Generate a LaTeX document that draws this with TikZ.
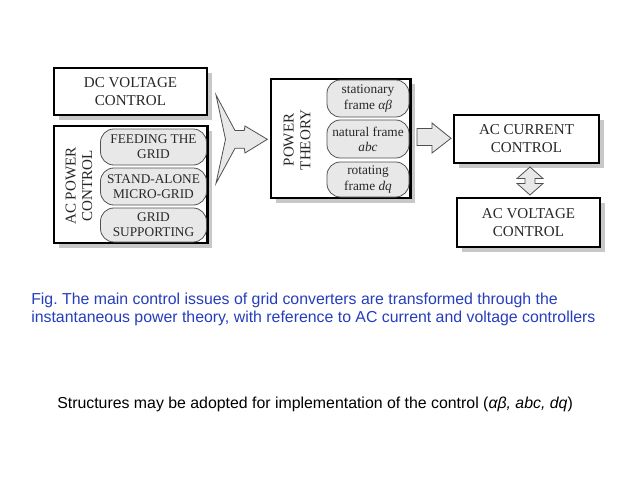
\documentclass[tikz,border=0pt]{standalone}
\usepackage{fontspec}
\setmainfont{Liberation Serif}
\newfontfamily\capfont{Liberation Sans}
\usetikzlibrary{shadows}
\frenchspacing
\definecolor{capblue}{RGB}{38,62,190}
\definecolor{txtgray}{RGB}{40,40,40}
\definecolor{innerfill}{RGB}{232,232,232}
\definecolor{innerdraw}{RGB}{80,80,80}
\definecolor{shadowgray}{RGB}{200,200,200}
\tikzset{
  bigbox/.style={draw=black, line width=1.7pt, fill=white, inner sep=0pt,
    text=txtgray, align=center, font=\fontsize{11.3}{13.5}\selectfont,
    drop shadow={shadow xshift=3.5pt, shadow yshift=-3.5pt, fill=shadowgray, opacity=1}},
  pill/.style={draw=innerdraw, line width=0.6pt, fill=innerfill, rounded corners=10pt,
    inner sep=0pt, text=txtgray, align=center, font=\fontsize{10}{11.4}\selectfont},
  vlabel/.style={rotate=90, text=txtgray, align=center, font=\fontsize{11.3}{12.5}\selectfont, inner sep=0pt},
  blockarrow/.style={draw=innerdraw, line width=0.6pt, fill=innerfill, line join=miter},
  captext/.style={font=\capfont\fontsize{11.9}{13.9}\selectfont, inner sep=0pt, align=left}
}
\begin{document}
\begin{tikzpicture}[x=0.75pt, y=-0.75pt]
\path[use as bounding box, fill=white] (0,0) rectangle (638,478);

% left column
\node[bigbox, minimum width=114.75pt, minimum height=35.25pt] (dc) at (130.5,91.5) {DC VOLTAGE\\CONTROL};
\node[bigbox, minimum width=114.75pt, minimum height=87.75pt] (acp) at (130.5,184.5) {};
\node[pill, minimum width=79.5pt, minimum height=27pt] (feed) at (153.5,147) {FEEDING THE\\GRID};
\node[pill, minimum width=79.5pt, minimum height=27.75pt] (stand) at (153.5,186.5) {STAND-ALONE\\MICRO-GRID};
\node[pill, minimum width=79.5pt, minimum height=25.5pt] (gsup) at (153.5,225) {GRID\\SUPPORTING};
\draw[line width=1.7pt] (acp.north east) -- (acp.south east);
\node[vlabel] (acplab) at (79,186) {AC POWER\\CONTROL};

% big arrow
\draw[blockarrow] (216,95) -- (235,130.5) -- (244.3,130.5) -- (245,126) -- (267.3,139.3)
  -- (245,153) -- (244.3,148.3) -- (235,148.3) -- (216,183.3) -- (225.5,139.3) -- cycle;

% power theory
\node[bigbox, minimum width=104.25pt, minimum height=89.25pt] (pt) at (340.5,138.5) {};
\node[pill, minimum width=61.5pt, minimum height=27.75pt] (stat) at (368,98.5) {stationary\\frame \textit{αβ}};
\node[pill, minimum width=61.5pt, minimum height=28.5pt] (nat) at (368,139) {natural frame\\\textit{abc}};
\node[pill, minimum width=61.5pt, minimum height=26.25pt] (rot) at (368,179.5) {rotating\\frame \textit{dq}};
\draw[line width=1.7pt] (pt.north east) -- (pt.south east);
\node[vlabel] (ptlab) at (297,140) {POWER\\THEORY};

% small arrow
\draw[blockarrow] (417,128.5) -- (432,128.5) -- (432,123) -- (451,138.3) -- (432,153) -- (432,145.5) -- (417,145.5) -- cycle;

% right column
\node[bigbox, minimum width=108.75pt, minimum height=36pt] (acc) at (526.5,139) {AC CURRENT\\CONTROL};
\node[bigbox, minimum width=107.25pt, minimum height=36.75pt] (acv) at (528.5,222.5) {AC VOLTAGE\\CONTROL};

% double arrow
\draw[blockarrow] (530,167) -- (543,178.5) -- (535,178.5) -- (535,183.5) -- (543,183.5) -- (530,195)
  -- (517,183.5) -- (525,183.5) -- (525,178.5) -- (517,178.5) -- cycle;

% captions
\node[captext, text=capblue, anchor=base west] (cap1) at (31,304) {Fig. The main control issues of grid converters are transformed through the};
\node[captext, text=capblue, anchor=base west] (cap2) at (31,322.5) {instantaneous power theory, with reference to AC current and voltage controllers};
\node[captext, text=black, anchor=base west] (note) at (57,408) {Structures may be adopted for implementation of the control (\textit{αβ, abc, dq})};
\end{tikzpicture}
\end{document}
